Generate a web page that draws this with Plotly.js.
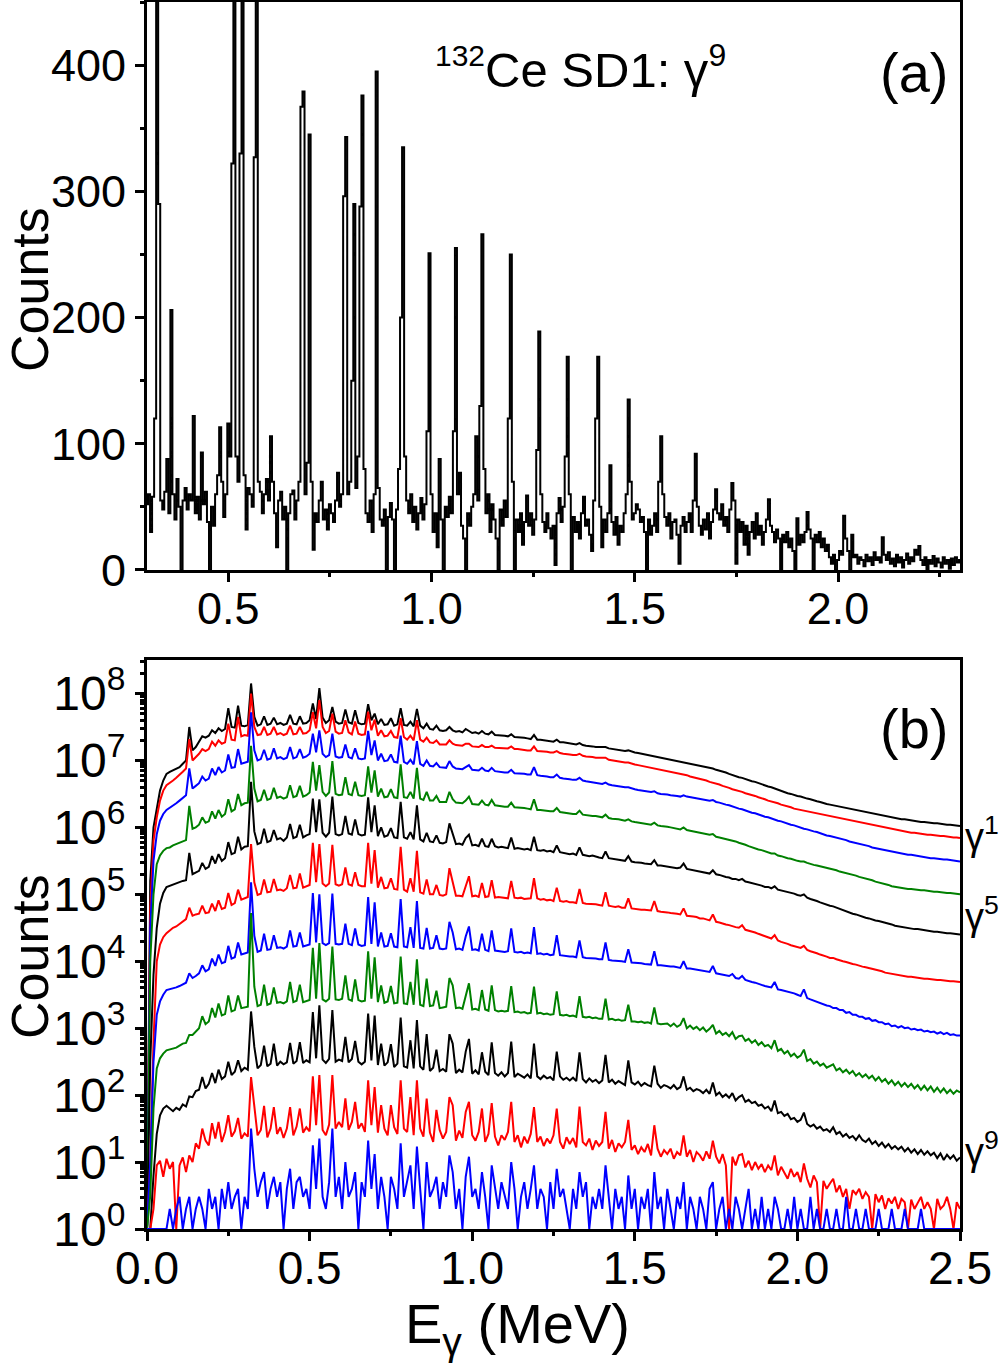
<!DOCTYPE html>
<html>
<head>
<meta charset="utf-8">
<script src="https://cdn.plot.ly/plotly-3.0.1.min.js"></script>
<style>html,body{margin:0;padding:0;background:#fff}#chart{width:1000px;height:1372px}</style>
</head>
<body>
<div id="chart"></div>
<script>
// ---------- Panel (a): 132Ce SD1, gamma^9 gated spectrum (counts per 5 keV channel) ----------
const energyStartA = 0.300;   // MeV, first channel
const energyStepA = 0.005;    // MeV per channel
const countsA = [
 52,60,30,58,120,900,290,55,48,62,88,45,206,60,40,72,50,0,55,65,
 48,60,55,122,45,58,40,93,52,62,38,0,50,35,60,75,113,70,42,60,
 116,90,322,1000,90,70,330,1000,75,32,65,60,50,327,1000,70,62,45,60,72,
 55,106,70,45,18,55,62,40,50,0,45,60,63,40,55,70,367,379,60,85,
 345,70,16,45,38,55,70,40,48,32,52,45,38,55,77,50,60,296,343,60,
 70,150,290,65,90,288,376,80,45,38,55,30,60,395,65,40,35,48,0,42,
 53,40,0,48,80,200,335,90,55,45,60,38,50,32,45,57,40,52,110,251,
 60,30,45,18,88,40,0,50,42,58,45,110,255,60,77,35,25,0,45,35,
 50,60,106,55,130,266,80,45,60,30,52,40,25,0,48,35,55,42,120,250,
 70,0,40,30,45,20,38,59,35,45,28,40,95,189,60,38,30,45,33,25,
 35,4,45,57,38,50,90,169,60,0,42,30,38,25,45,58,35,40,28,15,
 55,120,169,50,18,40,30,45,83,38,28,42,20,35,30,45,60,135,70,40,
 45,52,48,38,42,30,0,40,28,35,45,30,70,106,60,42,35,45,25,38,
 40,28,5,35,42,30,38,45,30,55,92,50,35,28,40,32,45,25,38,48,
 64,45,40,52,35,42,30,48,69,55,5,40,30,38,20,35,12,30,38,25,
 45,28,35,20,30,40,56,35,30,22,32,25,0,28,22,30,18,25,15,0,
 41,20,28,22,30,46,32,25,0,28,22,30,18,25,15,20,10,5,12,0,
 8,15,12,43,25,15,0,28,10,12,5,10,8,3,12,7,10,4,14,8,
 10,6,26,12,8,14,5,9,3,12,6,10,2,8,13,5,10,7,16,12,
 19,8,4,10,0,8,5,11,3,9,6,2,10,5,8,1,9,4,10,6,
 8
];

// ---------- Panel (b): log10(counts) per 10 keV channel from 0.00 MeV, folds gamma^1 ... gamma^11 ----------
const energyStepB = 0.01;
const logCountsFold1 = [
 0,5.2,6.0,6.3,6.55,6.7,6.8,6.83,6.85,6.87,
 6.9,6.95,7.0,7.5,7.15,7.2,7.28,7.36,7.34,7.37,
 7.45,7.41,7.48,7.44,7.47,7.78,7.5,7.49,7.82,7.52,
 7.51,7.53,8.15,7.65,7.52,7.54,7.66,7.53,7.55,7.64,
 7.54,7.56,7.53,7.55,7.68,7.55,7.54,7.66,7.55,7.56,
 7.6,7.85,7.62,8.08,7.64,7.56,7.6,7.8,7.58,7.55,
 7.56,7.76,7.57,7.55,7.75,7.56,7.54,7.55,7.84,7.6,
 7.7,7.54,7.62,7.53,7.54,7.63,7.52,7.54,7.78,7.53,
 7.52,7.58,7.51,7.77,7.52,7.48,7.55,7.47,7.46,7.52,
 7.45,7.44,7.45,7.5,7.45,7.43,7.44,7.42,7.47,7.44,
 7.41,7.42,7.40,7.44,7.40,7.39,7.43,7.38,7.38,7.37,
 7.37,7.36,7.39,7.35,7.35,7.34,7.34,7.33,7.32,7.38,
 7.31,7.31,7.30,7.30,7.29,7.28,7.31,7.27,7.27,7.26,
 7.25,7.25,7.24,7.26,7.23,7.22,7.22,7.21,7.20,7.20,
 7.19,7.20,7.18,7.17,7.16,7.16,7.15,7.14,7.15,7.13,
 7.12,7.11,7.10,7.09,7.08,7.07,7.07,7.05,7.04,7.03,
 7.02,7.01,7.00,6.99,6.98,6.98,6.96,6.95,6.94,6.93,
 6.92,6.91,6.90,6.89,6.88,6.86,6.85,6.83,6.82,6.80,
 6.78,6.77,6.75,6.74,6.72,6.71,6.69,6.68,6.66,6.65,
 6.63,6.61,6.60,6.58,6.56,6.55,6.53,6.51,6.50,6.48,
 6.47,6.46,6.44,6.43,6.42,6.40,6.39,6.38,6.36,6.35,
 6.34,6.33,6.32,6.31,6.30,6.29,6.28,6.26,6.25,6.24,
 6.23,6.22,6.21,6.20,6.19,6.18,6.17,6.16,6.15,6.15,
 6.14,6.13,6.12,6.12,6.11,6.10,6.10,6.09,6.08,6.08,
 6.07,6.07,6.06,6.06,6.05,6.05,6.04,6.04,6.03,6.03,
 6.02
];
const logCountsFold2 = [
 0,4.8,5.8,6.15,6.4,6.55,6.63,6.66,6.7,6.74,
 6.78,6.83,6.88,7.32,7.0,7.05,7.1,7.17,7.14,7.17,
 7.28,7.22,7.3,7.25,7.27,7.55,7.31,7.3,7.65,7.36,
 7.38,7.37,8.0,7.5,7.38,7.39,7.5,7.38,7.4,7.5,
 7.39,7.41,7.38,7.4,7.52,7.39,7.4,7.5,7.4,7.41,
 7.45,7.72,7.48,7.9,7.5,7.41,7.44,7.7,7.43,7.4,
 7.41,7.6,7.42,7.39,7.58,7.4,7.38,7.39,7.73,7.45,
 7.61,7.37,7.45,7.36,7.37,7.44,7.35,7.34,7.63,7.35,
 7.31,7.37,7.3,7.6,7.31,7.28,7.34,7.27,7.26,7.3,
 7.24,7.24,7.24,7.3,7.25,7.23,7.23,7.22,7.25,7.25,
 7.21,7.21,7.20,7.23,7.20,7.20,7.22,7.19,7.19,7.18,
 7.18,7.18,7.21,7.17,7.17,7.16,7.16,7.15,7.15,7.21,
 7.14,7.14,7.13,7.13,7.12,7.12,7.14,7.11,7.10,7.10,
 7.09,7.08,7.08,7.10,7.07,7.06,7.06,7.05,7.04,7.04,
 7.03,7.04,7.01,7.00,7.00,6.99,6.98,6.97,6.97,6.95,
 6.94,6.93,6.92,6.91,6.90,6.89,6.89,6.87,6.86,6.85,
 6.84,6.83,6.82,6.81,6.80,6.80,6.78,6.76,6.75,6.74,
 6.72,6.71,6.70,6.68,6.67,6.65,6.64,6.62,6.61,6.59,
 6.57,6.56,6.54,6.53,6.51,6.50,6.48,6.47,6.45,6.44,
 6.42,6.40,6.39,6.37,6.36,6.34,6.33,6.31,6.30,6.28,
 6.27,6.25,6.24,6.23,6.22,6.21,6.20,6.19,6.18,6.17,
 6.16,6.15,6.14,6.13,6.12,6.11,6.10,6.09,6.08,6.07,
 6.06,6.05,6.04,6.03,6.02,6.01,6.00,5.99,5.98,5.97,
 5.96,5.95,5.94,5.94,5.93,5.92,5.92,5.91,5.90,5.90,
 5.89,5.89,5.88,5.88,5.87,5.87,5.86,5.86,5.85,5.85,
 5.84
];
const logCountsFold3 = [
 0,4.5,5.5,5.9,6.1,6.2,6.26,6.29,6.32,6.36,
 6.4,6.44,6.48,6.88,6.58,6.62,6.66,6.76,6.7,6.73,
 6.88,6.78,6.9,6.82,6.85,7.09,6.89,6.9,7.17,6.95,
 6.97,6.98,7.72,7.15,7.0,7.02,7.16,7.01,7.03,7.18,
 7.03,7.05,7.02,7.04,7.2,7.03,7.05,7.17,7.04,7.06,
 7.1,7.4,7.12,7.45,7.1,7.05,7.08,7.4,7.06,7.04,
 7.05,7.24,7.05,7.03,7.18,7.03,7.02,7.03,7.44,7.08,
 7.3,7.0,7.1,6.99,7.0,7.09,6.98,6.97,7.37,6.98,
 6.95,7.01,6.94,7.29,6.95,6.92,7.0,6.92,6.91,6.96,
 6.90,6.90,6.89,6.99,6.91,6.88,6.88,6.87,6.9,6.93,
 6.86,6.86,6.85,6.89,6.85,6.84,6.89,6.84,6.83,6.83,
 6.82,6.82,6.86,6.81,6.81,6.80,6.80,6.79,6.79,6.90,
 6.78,6.77,6.77,6.76,6.75,6.75,6.79,6.74,6.73,6.73,
 6.72,6.71,6.71,6.74,6.70,6.69,6.68,6.68,6.67,6.66,
 6.65,6.67,6.64,6.63,6.62,6.61,6.60,6.60,6.60,6.58,
 6.57,6.56,6.55,6.54,6.54,6.53,6.54,6.51,6.50,6.50,
 6.49,6.48,6.48,6.47,6.46,6.48,6.46,6.45,6.45,6.44,
 6.43,6.42,6.41,6.40,6.41,6.38,6.37,6.35,6.34,6.33,
 6.31,6.30,6.28,6.27,6.25,6.24,6.22,6.21,6.19,6.18,
 6.16,6.15,6.13,6.12,6.10,6.09,6.07,6.06,6.04,6.03,
 6.01,6.00,5.98,5.97,5.95,5.94,5.93,5.91,5.90,5.88,
 5.87,5.86,5.84,5.83,5.82,5.81,5.79,5.78,5.77,5.75,
 5.74,5.73,5.72,5.70,5.69,5.68,5.67,5.66,5.64,5.63,
 5.62,5.61,5.61,5.60,5.59,5.59,5.58,5.57,5.56,5.56,
 5.55,5.54,5.54,5.53,5.53,5.52,5.52,5.51,5.50,5.50,
 5.49
];
const logCountsFold4 = [
 0,4.0,5.0,5.45,5.58,5.65,5.69,5.7,5.73,5.75,
 5.77,5.8,5.81,6.32,5.98,6.0,6.04,6.15,6.07,6.09,
 6.24,6.13,6.26,6.16,6.2,6.42,6.24,6.27,6.5,6.33,
 6.36,6.37,7.22,6.58,6.39,6.41,6.56,6.41,6.43,6.59,
 6.44,6.46,6.43,6.45,6.63,6.45,6.47,6.62,6.46,6.48,
 6.52,6.98,6.55,6.93,6.53,6.47,6.52,6.99,6.5,6.48,
 6.49,6.75,6.5,6.48,6.68,6.48,6.47,6.48,6.91,6.52,
 6.85,6.46,6.58,6.45,6.46,6.57,6.45,6.44,6.94,6.45,
 6.44,6.53,6.43,6.89,6.43,6.41,6.53,6.40,6.40,6.47,
 6.38,6.38,6.38,6.53,6.42,6.37,6.37,6.36,6.40,6.46,
 6.35,6.35,6.34,6.40,6.34,6.33,6.41,6.33,6.32,6.32,
 6.31,6.31,6.37,6.30,6.30,6.29,6.29,6.28,6.27,6.42,
 6.26,6.26,6.25,6.25,6.24,6.24,6.29,6.23,6.22,6.22,
 6.21,6.20,6.20,6.25,6.19,6.18,6.18,6.17,6.17,6.16,
 6.15,6.19,6.14,6.13,6.13,6.12,6.11,6.10,6.12,6.09,
 6.08,6.07,6.06,6.06,6.05,6.04,6.07,6.03,6.02,6.02,
 6.01,6.00,5.99,5.98,5.97,6.00,5.96,5.95,5.94,5.93,
 5.92,5.91,5.90,5.89,5.90,5.86,5.85,5.84,5.82,5.81,
 5.80,5.79,5.77,5.76,5.74,5.72,5.70,5.69,5.67,5.66,
 5.64,5.62,5.61,5.61,5.58,5.57,5.55,5.54,5.53,5.51,
 5.50,5.49,5.49,5.47,5.45,5.44,5.43,5.42,5.41,5.39,
 5.38,5.37,5.36,5.34,5.33,5.32,5.30,5.29,5.28,5.26,
 5.25,5.24,5.22,5.21,5.19,5.18,5.17,5.15,5.14,5.12,
 5.11,5.10,5.10,5.09,5.08,5.08,5.07,5.07,5.06,5.06,
 5.05,5.05,5.04,5.04,5.03,5.03,5.02,5.02,5.01,5.01,
 5.00
];
const logCountsFold5 = [
 0,2.5,3.8,4.5,4.86,5.02,5.11,5.13,5.15,5.16,
 5.18,5.2,5.21,5.62,5.3,5.32,5.35,5.47,5.38,5.41,
 5.57,5.46,5.6,5.5,5.54,5.78,5.6,5.62,5.86,5.67,
 5.71,5.72,6.68,5.94,5.75,5.77,5.98,5.78,5.8,5.96,
 5.82,5.84,5.8,5.85,6.05,5.84,5.86,6.04,5.85,5.88,
 5.9,6.43,5.93,6.42,5.92,5.86,5.92,6.46,5.9,5.88,
 5.9,6.17,5.91,5.89,6.12,5.9,5.88,5.89,6.45,5.93,
 6.33,5.87,6.0,5.86,5.88,5.99,5.85,5.84,6.38,5.85,
 5.83,5.93,5.82,6.33,5.82,5.79,5.92,5.79,5.78,5.88,
 5.77,5.76,5.78,6.06,5.92,5.75,5.76,5.74,5.84,5.89,
 5.73,5.74,5.72,5.83,5.72,5.71,5.83,5.72,5.70,5.71,
 5.70,5.69,5.85,5.68,5.69,5.68,5.67,5.68,5.66,5.86,
 5.66,5.65,5.66,5.64,5.65,5.63,5.73,5.63,5.62,5.61,
 5.60,5.61,5.59,5.70,5.59,5.58,5.57,5.58,5.56,5.55,
 5.54,5.64,5.54,5.53,5.52,5.52,5.51,5.50,5.57,5.49,
 5.48,5.48,5.47,5.46,5.46,5.45,5.51,5.43,5.43,5.42,
 5.41,5.41,5.40,5.39,5.40,5.46,5.38,5.37,5.37,5.36,
 5.34,5.34,5.33,5.31,5.36,5.30,5.29,5.27,5.26,5.25,
 5.23,5.23,5.21,5.23,5.19,5.18,5.17,5.16,5.15,5.13,
 5.11,5.11,5.09,5.12,5.07,5.06,5.05,5.03,5.02,5.01,
 4.99,4.98,5.00,4.95,4.93,4.92,4.90,4.88,4.86,4.85,
 4.83,4.82,4.80,4.78,4.76,4.75,4.73,4.71,4.70,4.68,
 4.66,4.65,4.64,4.62,4.61,4.60,4.59,4.57,4.56,4.55,
 4.53,4.52,4.52,4.51,4.50,4.49,4.48,4.48,4.47,4.46,
 4.45,4.45,4.44,4.44,4.43,4.43,4.42,4.42,4.41,4.41,
 4.40
];
const logCountsFold6 = [
 0,1.0,2.8,4.0,4.25,4.36,4.42,4.46,4.5,4.52,
 4.56,4.6,4.63,4.8,4.68,4.7,4.71,4.83,4.72,4.73,
 4.86,4.75,4.91,4.78,4.8,5.02,4.84,4.87,5.07,4.92,
 4.94,4.96,5.75,5.18,4.99,5.01,5.22,5.03,5.04,5.23,
 5.06,5.07,5.05,5.09,5.29,5.09,5.1,5.31,5.1,5.12,
 5.14,5.77,5.18,5.75,5.16,5.12,5.16,5.74,5.15,5.13,
 5.15,5.4,5.15,5.13,5.33,5.14,5.12,5.12,5.77,5.16,
 5.66,5.1,5.26,5.09,5.1,5.24,5.08,5.07,5.71,5.07,
 5.04,5.24,5.04,5.65,5.03,5.01,5.22,5.0,5.0,5.14,
 4.99,4.98,5.0,5.39,5.19,4.98,4.98,4.97,5.12,5.27,
 4.97,4.98,4.96,5.17,4.96,4.97,5.21,4.95,4.96,4.95,
 4.95,4.94,5.20,4.95,4.94,4.95,4.93,4.94,4.94,5.24,
 4.94,4.92,4.93,4.91,4.92,4.90,5.10,4.90,4.89,4.90,
 4.88,4.88,4.87,5.08,4.87,4.86,4.86,4.85,4.85,4.84,
 4.83,5.03,4.83,4.82,4.81,4.82,4.80,4.80,4.94,4.79,
 4.78,4.78,4.77,4.77,4.76,4.76,4.90,4.75,4.74,4.74,
 4.73,4.72,4.72,4.71,4.70,4.79,4.68,4.68,4.67,4.66,
 4.64,4.64,4.62,4.61,4.70,4.59,4.58,4.56,4.55,4.54,
 4.52,4.51,4.50,4.54,4.47,4.46,4.44,4.43,4.41,4.39,
 4.37,4.36,4.34,4.39,4.31,4.29,4.28,4.26,4.24,4.23,
 4.21,4.20,4.23,4.17,4.15,4.14,4.12,4.10,4.09,4.07,
 4.05,4.05,4.03,4.01,4.00,3.99,3.97,3.96,3.95,3.93,
 3.92,3.91,3.90,3.88,3.87,3.86,3.85,3.83,3.82,3.81,
 3.80,3.79,3.79,3.78,3.77,3.77,3.76,3.76,3.75,3.74,
 3.74,3.73,3.73,3.72,3.72,3.71,3.71,3.70,3.70,3.69,
 3.69
];
const logCountsFold7 = [
 0,1.0,2.5,3.2,3.4,3.5,3.57,3.58,3.6,3.61,
 3.63,3.66,3.68,3.82,3.75,3.78,3.82,3.94,3.85,3.88,
 4.04,3.93,4.1,3.97,3.99,4.23,4.04,4.06,4.28,4.1,
 4.12,4.13,5.18,4.38,4.14,4.16,4.41,4.17,4.18,4.39,
 4.2,4.21,4.19,4.22,4.46,4.22,4.23,4.43,4.22,4.24,
 4.25,5.02,4.28,5.0,4.27,4.24,4.27,5.01,4.26,4.25,
 4.26,4.56,4.26,4.24,4.49,4.25,4.23,4.24,4.96,4.26,
 4.88,4.22,4.43,4.22,4.23,4.42,4.22,4.21,4.93,4.22,
 4.21,4.51,4.2,4.9,4.2,4.19,4.5,4.19,4.2,4.39,
 4.19,4.18,4.19,4.59,4.43,4.18,4.19,4.17,4.37,4.52,
 4.17,4.18,4.16,4.41,4.17,4.15,4.46,4.16,4.15,4.15,
 4.14,4.15,4.49,4.14,4.13,4.14,4.12,4.13,4.12,4.51,
 4.11,4.12,4.10,4.11,4.09,4.10,4.39,4.09,4.08,4.08,
 4.07,4.07,4.06,4.31,4.06,4.05,4.05,4.04,4.04,4.03,
 4.03,4.28,4.02,4.01,4.01,4.00,4.00,3.99,4.18,3.98,
 3.98,3.97,3.97,3.96,3.96,3.95,4.15,3.94,3.94,3.93,
 3.93,3.92,3.92,3.91,3.90,4.00,3.89,3.89,3.88,3.88,
 3.87,3.86,3.85,3.84,3.93,3.82,3.81,3.80,3.79,3.78,
 3.81,3.75,3.74,3.78,3.72,3.70,3.69,3.68,3.66,3.65,
 3.63,3.62,3.61,3.69,3.58,3.57,3.56,3.54,3.53,3.52,
 3.50,3.48,3.58,3.45,3.43,3.41,3.39,3.38,3.36,3.34,
 3.33,3.30,3.30,3.27,3.27,3.23,3.24,3.20,3.20,3.17,
 3.17,3.14,3.15,3.11,3.12,3.09,3.09,3.06,3.07,3.03,
 3.04,3.01,3.03,3.00,3.01,2.98,2.99,2.97,2.98,2.95,
 2.96,2.94,2.95,2.92,2.94,2.91,2.93,2.90,2.91,2.89,
 2.89
];
const logCountsFold8 = [
 0,0.5,1.8,2.4,2.55,2.62,2.67,2.68,2.70,2.71,
 2.74,2.77,2.78,2.9,2.9,2.95,3.0,3.18,3.06,3.1,
 3.3,3.16,3.37,3.19,3.21,3.49,3.25,3.27,3.49,3.3,
 3.31,3.32,4.72,3.62,3.33,3.35,3.65,3.35,3.37,3.61,
 3.38,3.39,3.37,3.4,3.69,3.39,3.41,3.65,3.39,3.41,
 3.42,4.2,3.44,4.27,3.43,3.4,3.44,4.22,3.43,3.42,
 3.44,3.79,3.43,3.41,3.73,3.42,3.4,3.41,4.15,3.44,
 4.06,3.39,3.64,3.38,3.4,3.63,3.37,3.38,4.07,3.37,
 3.36,3.69,3.35,4.03,3.35,3.33,3.74,3.33,3.34,3.56,
 3.30,3.31,3.32,3.75,3.64,3.30,3.31,3.29,3.49,3.67,
 3.28,3.29,3.27,3.57,3.28,3.26,3.64,3.27,3.25,3.26,
 3.25,3.26,3.63,3.24,3.25,3.23,3.24,3.22,3.23,3.62,
 3.22,3.23,3.21,3.22,3.20,3.21,3.55,3.20,3.19,3.20,
 3.18,3.19,3.17,3.48,3.17,3.16,3.17,3.15,3.16,3.14,
 3.14,3.44,3.13,3.14,3.12,3.13,3.11,3.12,3.35,3.10,
 3.10,3.09,3.10,3.08,3.09,3.07,3.31,3.07,3.06,3.07,
 3.07,3.03,3.07,3.02,3.05,3.15,3.00,3.04,2.99,3.02,
 2.97,3.01,2.95,2.99,3.05,2.92,2.96,2.90,2.93,2.88,
 2.94,2.84,2.88,2.89,2.81,2.84,2.78,2.82,2.75,2.79,
 2.73,2.75,2.70,2.82,2.66,2.69,2.62,2.66,2.58,2.62,
 2.56,2.59,2.68,2.51,2.54,2.47,2.50,2.44,2.47,2.41,
 2.44,2.46,2.37,2.40,2.34,2.38,2.32,2.36,2.29,2.33,
 2.27,2.31,2.25,2.29,2.22,2.27,2.20,2.24,2.17,2.22,
 2.15,2.20,2.13,2.18,2.12,2.17,2.10,2.15,2.08,2.14,
 2.07,2.13,2.05,2.11,2.04,2.10,2.03,2.08,2.02,2.07,
 2.04
];
const logCountsFold9 = [
 0,0,0.8,1.42,1.7,1.8,1.84,1.8,1.76,1.81,
 1.78,1.86,1.83,1.98,1.97,2.06,2.08,2.27,2.1,2.17,
 2.33,2.18,2.38,2.24,2.28,2.5,2.3,2.35,2.52,2.36,
 2.41,2.38,3.25,2.72,2.4,2.45,2.74,2.43,2.47,2.77,
 2.44,2.5,2.46,2.49,2.78,2.47,2.51,2.79,2.48,2.52,
 2.49,3.24,2.55,3.34,2.53,2.48,2.54,3.27,2.5,2.53,
 2.51,2.87,2.49,2.54,2.81,2.5,2.46,2.5,3.22,2.52,
 3.19,2.45,2.77,2.44,2.49,2.76,2.42,2.47,3.16,2.43,
 2.41,2.82,2.4,3.12,2.43,2.38,2.91,2.36,2.41,2.68,
 2.36,2.39,2.35,2.91,2.77,2.33,2.38,2.34,2.65,2.84,
 2.32,2.37,2.31,2.64,2.35,2.30,2.79,2.33,2.29,2.34,
 2.28,2.33,2.80,2.27,2.32,2.29,2.26,2.31,2.25,2.77,
 2.28,2.24,2.29,2.25,2.27,2.22,2.65,2.28,2.23,2.26,
 2.22,2.26,2.21,2.64,2.24,2.19,2.25,2.20,2.23,2.18,
 2.22,2.60,2.19,2.23,2.17,2.21,2.18,2.15,2.52,2.19,
 2.16,2.20,2.14,2.18,2.15,2.13,2.44,2.17,2.11,2.15,
 2.13,2.10,2.15,2.09,2.12,2.28,2.08,2.11,2.06,2.09,
 2.07,2.03,2.08,2.02,2.19,2.00,2.04,1.97,2.01,1.96,
 2.03,1.92,1.97,2.00,1.90,1.93,1.88,1.90,1.84,1.86,
 1.80,1.83,1.76,1.92,1.73,1.75,1.69,1.72,1.64,1.66,
 1.60,1.63,1.74,1.57,1.53,1.56,1.50,1.53,1.47,1.49,
 1.45,1.52,1.42,1.45,1.38,1.42,1.36,1.39,1.33,1.40,
 1.33,1.30,1.35,1.27,1.31,1.24,1.29,1.22,1.27,1.20,
 1.24,1.19,1.23,1.16,1.21,1.14,1.19,1.12,1.18,1.11,
 1.16,1.10,1.14,1.06,1.13,1.03,1.11,1.05,1.10,1.02,
 1.07
];
const logCountsFold10 = [
 0,0,0.3,0.95,1.02,0.78,1.05,0.9,1.0,0,
 0.95,1.07,0.85,1.1,1.0,1.28,1.2,1.5,1.32,1.25,
 1.58,1.35,1.6,1.3,1.45,1.7,1.38,1.46,1.66,1.35,
 1.43,1.38,2.27,1.8,1.4,1.48,1.84,1.37,1.5,1.82,
 1.42,1.52,1.36,1.5,1.82,1.4,1.53,1.8,1.44,1.52,
 1.46,2.28,1.55,2.3,1.48,1.4,1.56,2.3,1.5,1.6,
 1.52,1.95,1.48,1.6,1.9,1.5,1.58,1.45,2.22,1.55,
 2.12,1.44,1.85,1.5,1.4,1.85,1.52,1.42,2.22,1.5,
 1.45,1.97,1.4,2.22,1.5,1.38,1.95,1.44,1.3,1.78,
 1.48,1.35,1.45,1.97,1.85,1.32,1.47,1.36,1.75,1.9,
 1.4,1.32,1.45,1.8,1.3,1.42,1.88,1.38,1.25,1.4,
 1.33,1.45,1.9,1.3,1.4,1.22,1.38,1.28,1.42,1.82,
 1.3,1.38,1.24,1.35,1.28,1.4,1.8,1.3,1.2,1.37,
 1.27,1.36,1.22,1.83,1.3,1.25,1.35,1.18,1.32,1.24,
 1.3,1.75,1.2,1.33,1.15,1.28,1.22,1.3,1.63,1.18,
 1.25,1.12,1.22,1.15,1.27,1.1,1.55,1.2,1.08,1.18,
 1.12,1.2,1.05,1.15,1.1,1.4,1.08,1.18,1.0,1.15,
 1.1,1.02,1.16,1.05,1.32,1.08,0.98,1.12,0.95,0,
 1.08,0.95,1.1,1.12,0.92,1.02,0.88,1.0,0.9,0.97,
 0.85,0.95,0.88,1.1,0.8,0.93,0.85,0.75,0.9,0.78,
 0.85,0.7,0.98,0.75,0.62,0.8,0.7,0,0.72,0.6,
 0.68,0.75,0.55,0.65,0.48,0.6,0.3,0.58,0.52,0.6,
 0.45,0.55,0.48,0,0.52,0.4,0.5,0.3,0.46,0.38,
 0.48,0.3,0.45,0.4,0,0.44,0.3,0.38,0.48,0.3,
 0.4,0.3,0,0.45,0.3,0.35,0.48,0.3,0,0.4,
 0.3
];
const logCountsFold11 = [
 0,0,0,0,0,0,0,0.3,0,0.3,
 0.48,0,0.3,0.48,0,0.3,0.48,0.3,0,0.6,
 0.3,0.48,0,0.6,0.3,0.7,0.3,0.48,0.6,0,
 0.48,0.3,1.5,0.9,0.48,0.7,0.85,0.3,0.6,0.78,
 0.48,0.7,0,0.6,0.9,0.3,0.7,0.78,0.48,0.6,
 0.3,1.25,0.6,1.35,0.48,0.3,0.7,1.5,0.48,0.78,
 0.3,1.0,0.48,0.6,0.85,0,0.7,0.48,1.32,0.6,
 1.12,0.3,0.78,0.48,0,0.78,0.6,0.3,1.28,0.48,
 0.7,0.95,0.3,1.23,0.6,0,1.0,0.48,0.6,0.78,
 0.3,0.7,0.48,1.1,0.85,0.3,0.6,0,0.78,1.08,
 0.48,0.6,0.3,0.85,0.48,0,0.95,0.6,0.3,0.7,
 0.48,0.3,1.0,0.6,0,0.48,0.7,0.3,0.6,0.95,
 0.3,0.6,0.48,0,0.7,0.3,0.9,0.48,0.6,0.3,
 0,0.6,0.3,0.85,0.48,0.7,0,0.48,0.3,0.6,
 0.3,0.95,0.48,0,0.6,0.3,0.48,0,0.8,0.3,
 0.6,0,0.48,0.3,0.6,0,0.85,0.3,0.48,0,
 0.6,0.3,0,0.48,0.3,0.7,0,0.48,0.3,0,
 0.48,0.3,0,0.6,0.7,0,0.3,0.48,0,0.3,
 0,0.48,0.3,0,0.3,0.6,0,0.3,0,0.48,
 0,0.3,0,0.48,0.3,0,0,0.3,0,0.48,
 0,0.3,0,0,0.48,0,0.3,0,0,0.3,
 0,0,0.3,0,0,0.48,0,0,0.3,0,
 0,0.3,0,0,0,0.3,0,0,0,0.3,
 0,0,0,0.3,0,0,0,0,0.3,0,
 0,0,0,0,0,0,0,0,0,0,
 0
];

const foldColors = ['#000000', '#ff0000', '#0000ff', '#008000'];
const foldLabelText = ['γ<sup>1</sup>', 'γ<sup>5</sup>', 'γ<sup>9</sup>'];
const foldLabelLogY = [5.9, 4.7, 1.2];
const yTickExponentsB = [0, 1, 2, 3, 4, 5, 6, 7, 8];

// ---------- build traces ----------
const FONT = 'Liberation Sans, Arial, Helvetica, sans-serif';
const xA = countsA.map((c, i) => +(energyStartA + i * energyStepA).toFixed(4));
const folds = [logCountsFold1, logCountsFold2, logCountsFold3, logCountsFold4, logCountsFold5,
  logCountsFold6, logCountsFold7, logCountsFold8, logCountsFold9, logCountsFold10, logCountsFold11];
const xB = logCountsFold1.map((v, i) => +(i * energyStepB).toFixed(3));

const traces = [{
  x: xA, y: countsA, type: 'scatter', mode: 'lines', xaxis: 'x', yaxis: 'y',
  line: {color: '#000000', width: 2, shape: 'hvh'}, hoverinfo: 'skip'
}];
folds.forEach((arr, k) => {
  traces.push({
    x: xB, y: arr.map(v => Math.pow(10, v)), type: 'scatter', mode: 'lines',
    xaxis: 'x2', yaxis: 'y2', line: {color: foldColors[k % 4], width: 2}, hoverinfo: 'skip'
  });
});

// ---------- axes ----------
const tickCommon = {tickcolor: '#000', tickwidth: 3};
const mainAxis = Object.assign({
  showline: true, linecolor: '#000', linewidth: 3, mirror: true, showgrid: false, zeroline: false,
  ticks: 'outside', ticklen: 9, tickfont: {family: FONT, size: 45, color: '#000'}
}, tickCommon);
const innerAxis = Object.assign({
  showline: false, showgrid: false, zeroline: false, showticklabels: false,
  ticks: 'inside', ticklen: 8
}, tickCommon);
const minorOut = (o) => Object.assign({ticks: 'outside', ticklen: 4, tickwidth: 3, tickcolor: '#000', showgrid: false}, o);
const minorIn = (o) => Object.assign({ticks: 'inside', ticklen: 4, tickwidth: 3, tickcolor: '#000', showgrid: false}, o);

const majorLogVals = yTickExponentsB.map(e => Math.pow(10, e));
const majorLogText = yTickExponentsB.map(e => '10<sup>' + e + '</sup>');
const minorLogVals = [];
for (let e = 0; e <= 8; e++) for (let m = 2; m <= 9; m++) { const v = m * Math.pow(10, e); if (Math.log10(v) <= 8.5) minorLogVals.push(v); }

const domA = [0.5371, 1], domB = [0, 0.4637];
const rangeXA = [0.3, 2.3], rangeYA = [0, 450], rangeXB = [0, 2.5], rangeYB = [0, 8.5];

const ann = (o) => Object.assign({showarrow: false, xanchor: 'center', yanchor: 'middle'}, o);

const layout = {
  width: 1000, height: 1372,
  margin: {l: 147, r: 40, t: 2, b: 143},
  paper_bgcolor: '#ffffff', plot_bgcolor: '#ffffff',
  showlegend: false,
  font: {family: FONT, color: '#000'},
  xaxis: Object.assign({}, mainAxis, {domain: [0, 1], anchor: 'y', range: rangeXA, tick0: 0, dtick: 0.5, tickformat: '.1f',
    ticklabelstandoff: -12, minor: minorOut({tick0: 0, dtick: 0.25})}),
  yaxis: Object.assign({}, mainAxis, {domain: domA, anchor: 'x', range: rangeYA, tick0: 0, dtick: 100,
    minor: minorOut({tick0: 0, dtick: 50})}),
  xaxis3: Object.assign({}, innerAxis, {overlaying: 'x', anchor: 'y', range: rangeXA, tick0: 0, dtick: 0.5,
    minor: minorIn({tick0: 0, dtick: 0.25})}),
  yaxis3: Object.assign({}, innerAxis, {overlaying: 'y', anchor: 'x', range: rangeYA, tick0: 0, dtick: 100,
    minor: minorIn({tick0: 0, dtick: 50})}),
  xaxis2: Object.assign({}, mainAxis, {domain: [0, 1], anchor: 'y2', range: rangeXB, tick0: 0, dtick: 0.5, tickformat: '.1f',
    tickfont: {family: FONT, size: 46, color: '#000'}, ticklabelstandoff: -12,
    minor: minorOut({tick0: 0, dtick: 0.25})}),
  yaxis2: Object.assign({}, mainAxis, {domain: domB, anchor: 'x2', type: 'log', range: rangeYB,
    tickmode: 'array', tickvals: majorLogVals, ticktext: majorLogText,
    tickfont: {family: FONT, size: 48, color: '#000'},
    minor: minorOut({tickmode: 'array', tickvals: minorLogVals})}),
  xaxis4: Object.assign({}, innerAxis, {overlaying: 'x2', anchor: 'y2', range: rangeXB, tick0: 0, dtick: 0.5,
    minor: minorIn({tick0: 0, dtick: 0.25})}),
  yaxis4: Object.assign({}, innerAxis, {overlaying: 'y2', anchor: 'x2', type: 'log', range: rangeYB,
    tickmode: 'array', tickvals: majorLogVals,
    minor: minorIn({tickmode: 'array', tickvals: minorLogVals})}),
  annotations: [
    ann({text: '<sup><span style="font-size:30px">132</span></sup>Ce SD1: γ<sup><span style="font-size:32px">9</span></sup>',
      xref: 'x domain', yref: 'y domain', x: 0.533, y: 0.885, font: {family: FONT, size: 49, color: '#000'}}),
    ann({text: '(a)', xref: 'x domain', yref: 'y domain', x: 0.943, y: 0.876, font: {family: FONT, size: 56, color: '#000'}}),
    ann({text: '(b)', xref: 'x2 domain', yref: 'y2 domain', x: 0.943, y: 0.880, font: {family: FONT, size: 56, color: '#000'}}),
    ann({text: 'Counts', xref: 'paper', yref: 'paper', x: -0.1439, y: 0.7653, textangle: -90,
      font: {family: FONT, size: 52, color: '#000'}}),
    ann({text: 'Counts', xref: 'paper', yref: 'paper', x: -0.1439, y: 0.2217, textangle: -90,
      font: {family: FONT, size: 52, color: '#000'}}),
    ann({text: 'E<sub>γ</sub> (MeV)', xref: 'paper', yref: 'paper', x: 0.4563, y: -0.0799,
      font: {family: FONT, size: 56, color: '#000'}})
  ].concat(foldLabelText.map((t, k) => ann({
    text: t, xref: 'paper', yref: 'y2', x: 1, y: foldLabelLogY[k], xanchor: 'left', xshift: 3,
    font: {family: FONT, size: 38, color: '#000'}
  })))
};

Plotly.newPlot('chart', traces, layout, {displayModeBar: false, staticPlot: true});
</script>
</body>
</html>
